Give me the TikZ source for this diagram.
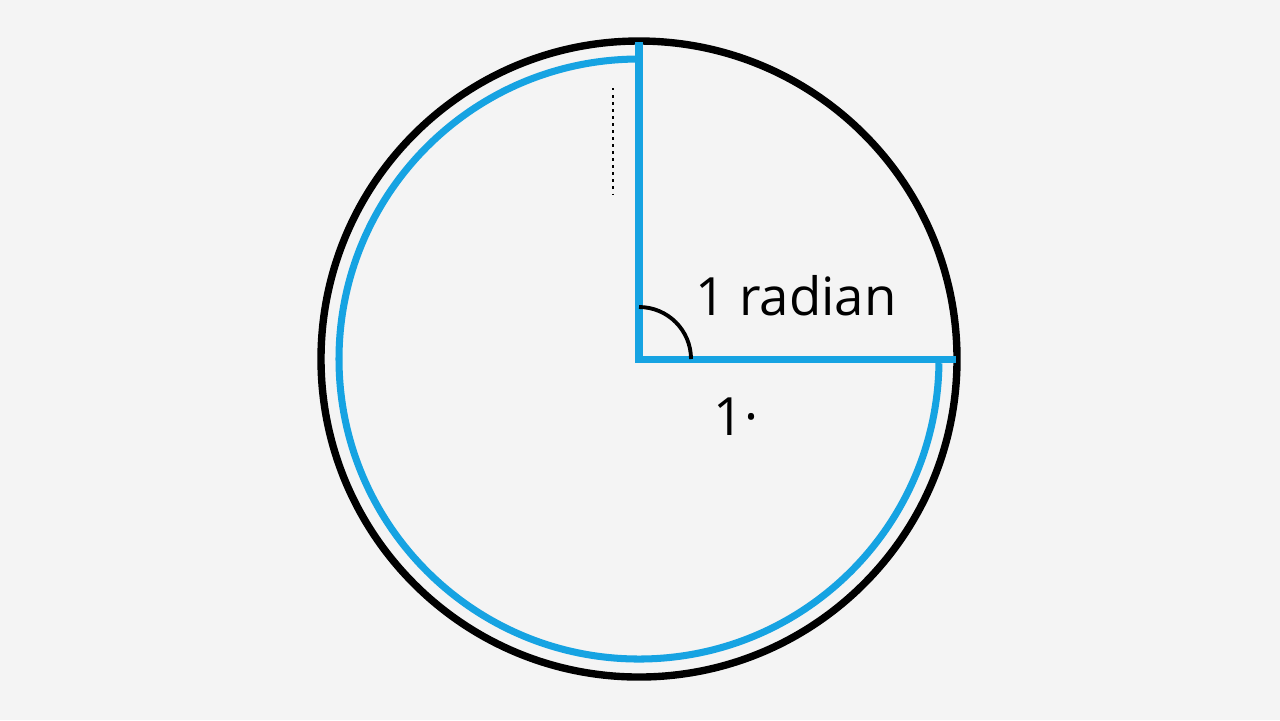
\documentclass[tikz,border=0pt]{standalone}
\usepackage{fontspec}
\setmainfont{Open Sans}
\usepackage{xcolor}
\definecolor{bgcolor}{RGB}{244, 244, 244}
\definecolor{arccolor}{RGB}{22, 163, 226}

\begin{document}
\begin{tikzpicture}[x=0.01cm, y=-0.01cm,
		blueline/.style={arccolor, line width=2pt},
		labeltext/.style={font=\fontsize{15}{18}\selectfont, inner sep=0pt}]
	\useasboundingbox (0,0) rectangle (1280,720);
	\fill[bgcolor] (0,0) rectangle (1280,720);
	
	% Centre and radii ends
	\coordinate (O) at (639,359);
	\coordinate (top) at (639,42);
	\coordinate (right) at (956,359);
	
	% Unit circle
	\draw[line width=2.1pt] (O) circle (318);
	
	% Arc of the rest of the circle (y axis points down)
	\draw[blueline, line cap=butt] (O) ++(270:300) arc (270:0.8:300);
	
	% Radii
	\draw[blueline] (top) -- (O) -- (right);
	
	% Angle mark
	\draw[line width=1.1pt] (O) ++(0:52) arc (0:-90:52);
	
	% Dotted mark
	\coordinate (dtop) at (613,88);
	\coordinate (dbot) at (613,194);
	\draw[line width=0.7pt, dash pattern=on 0.7pt off 1.3pt] (dtop) -- (dbot);
	
	% Labels
	\node[labeltext, anchor=base] (angle) at (796,315) {1 radian};
	\node[labeltext, anchor=base] (unit) at (736,435) {1·};
\end{tikzpicture}
\end{document}
